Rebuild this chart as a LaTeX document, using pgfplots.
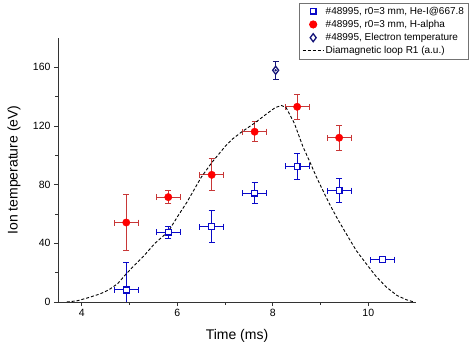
\documentclass[border=0pt]{standalone}
\usepackage{fontspec}
\setmainfont{Liberation Sans}
\usepackage{pgfplots}
\pgfplotsset{compat=1.18}
\definecolor{bsq}{RGB}{10,10,200}
\definecolor{rerr}{RGB}{200,55,55}
\definecolor{navy}{RGB}{20,20,120}
\pgfplotsset{
  mklegend/.style={legend image code/.code={%
    \draw[mark repeat=2,mark phase=2,##1] plot coordinates {(0pt,0pt) (10.5pt,0pt) (21pt,0pt)};}},
  lnlegend/.style={legend image code/.code={%
    \draw[##1] (0pt,0pt) -- (21pt,0pt);}},
}
\begin{document}
\begin{tikzpicture}[x=1pt,y=1pt]
\path[use as bounding box] (-58,-46) rectangle (416,302);
\begin{axis}[
  at={(0,0)}, anchor=south west,
  width=358pt, height=264pt, scale only axis,
  xmin=3.5, xmax=11, ymin=0, ymax=180,
  axis x line*=bottom, axis y line*=left,
  axis line style={-, line width=0.8pt, black!80},
  xtick={4,6,8,10}, ytick={0,40,80,120,160},
  minor x tick num=1, minor y tick num=1,
  tick align=outside,
  major tick length=4pt, minor tick length=2.5pt,
  tick style={line width=0.8pt, black!80},
  /pgf/number format/assume math mode=true,
  ticklabel style={font=\fontsize{10.5}{12}\selectfont},
  xlabel={Time (ms)}, ylabel={Ion temperature (eV)},
  label style={font=\fontsize{14}{16}\selectfont},
  xlabel style={at={(axis description cs:0.5,-0.1402)}, anchor=base},
  ylabel style={at={(axis description cs:-0.1131,0.5)}, anchor=base},
  legend style={at={(axis description cs:1.148,1.133)}, anchor=north east,
    draw=black!55, line width=0.7pt, fill=white,
    font=\fontsize{10}{12}\selectfont,
    nodes={inner sep=1.6pt}, row sep=1.3pt},
  legend cell align=left,
]
\addplot[bsq, line width=1.3pt, only marks, mark=square*, mark size=2.9pt,
  mark options={fill=white}, mklegend,
  error bars/.cd, x dir=both, x explicit, y dir=both, y explicit,
  error bar style={bsq, line width=1pt},
  error mark options={bsq, line width=1pt, mark size=3pt, rotate=90}]
  table[x=x, y=y, x error=ex, y error=ey] {
x y ex ey
4.93 8.2 0.25 19
5.81 47.6 0.25 4
6.72 51.4 0.25 11
7.62 74.2 0.25 7
8.51 92.4 0.25 8.6
9.39 76 0.25 8.5
10.30 28.9 0.26 0
};
\addlegendentry{\#48995, r0=3 mm, He-I@667.8}
\addplot[red, only marks, mark=*, mark size=3.7pt, mklegend,
  error bars/.cd, x dir=both, x explicit, y dir=both, y explicit,
  error bar style={rerr, line width=1pt},
  error mark options={rerr, line width=1pt, mark size=3pt, rotate=90}]
  table[x=x, y=y, x error=ex, y error=ey] {
x y ex ey
4.93 54.2 0.25 19.2
5.81 71.5 0.25 4.3
6.72 86.7 0.25 11
7.62 116.1 0.25 7
8.51 133.1 0.25 8.4
9.39 112 0.25 8.5
};
\addlegendentry{\#48995, r0=3 mm, H-alpha}
\addplot[navy, line width=1.3pt, only marks, mark=diamond*, mark size=4pt,
  mark options={fill=white}, mklegend,
  error bars/.cd, y dir=both, y explicit,
  error bar style={navy, line width=1pt},
  error mark options={navy, line width=1pt, mark size=3pt, rotate=90}]
  table[x=x, y=y, y error=ey] {
x y ey
8.06 158 6
};
\addlegendentry{\#48995, Electron temperature}
\addplot[black, line width=0.9pt, dash pattern=on 3pt off 2pt, lnlegend] table {
3.68 0
3.9 0.8
4.14 3.0
4.38 5.5
4.56 8.2
4.75 12.5
4.94 19.6
5.1 25
5.3 31.5
5.53 40
5.81 48
6.0 58
6.2 68
6.5 85
6.72 95
7.0 106
7.15 111
7.35 116
7.62 122
7.9 129
8.05 132.5
8.18 134
8.28 132.5
8.45 122
8.63 106
8.77 96
8.91 85.5
9.05 76
9.18 67.4
9.35 57
9.53 47
9.75 35
9.95 26.4
10.15 18
10.37 10.4
10.6 4.5
10.8 1.5
10.96 0
};
\addlegendentry{Diamagnetic loop R1 (a.u.)}
\addplot[navy, only marks, mark=*, mark size=0.9pt, forget plot] coordinates {(8.06,158)};
\end{axis}
\end{tikzpicture}
\end{document}
